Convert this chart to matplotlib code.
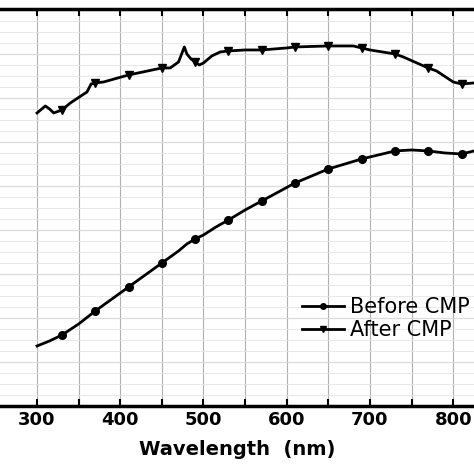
import matplotlib
matplotlib.use("Agg")
import matplotlib.pyplot as plt
import numpy as np

# After CMP curve (x nm, y in arbitrary units)
after_x = [300, 310, 315, 320, 330, 340, 360, 365, 370, 380, 410, 450, 460, 470, 477, 480, 485, 490, 495, 500, 510, 520, 530, 550, 570, 600, 610, 650, 680, 690, 700, 730, 740, 770, 780, 800, 810, 825]
after_y = [293, 300, 297, 293, 296, 303, 314, 322, 323, 324, 331, 338, 338, 344, 359, 352, 347, 344, 341, 343, 350, 354, 355, 356, 356, 358, 359, 360, 360, 358, 356, 352, 349, 338, 335, 324, 322, 323]
after_mx = [330, 370, 410, 450, 490, 530, 570, 610, 650, 690, 730, 770, 810]
after_my = [296, 323, 331, 338, 344, 355, 356, 359, 360, 358, 352, 338, 322]

before_x = [300, 315, 330, 350, 370, 390, 410, 430, 450, 470, 480, 490, 500, 515, 530, 550, 570, 590, 610, 630, 650, 670, 690, 710, 730, 750, 770, 790, 810, 825]
before_y = [60, 65, 71, 82, 95, 107, 119, 131, 143, 155, 162, 167, 171, 179, 186, 196, 205, 214, 223, 230, 237, 242, 247, 251, 255, 256, 255, 253, 252, 255]
before_mx = [330, 370, 410, 450, 490, 530, 570, 610, 650, 690, 730, 770, 810]
before_my = [71, 95, 119, 143, 167, 186, 205, 223, 237, 247, 255, 255, 252]

xticks = [300, 400, 500, 600, 700, 800]

fig = plt.figure(figsize=(4.74, 4.74), dpi=100)
ax = fig.add_axes([0, 0.1435, 1.0, 0.8376])
ax.set_xlim(255.5, 825)
ax.set_ylim(0, 397)

for v in np.arange(300, 826, 50):
    ax.axvline(v, color="#b0b0b0", lw=0.8, zorder=0)
for v in np.arange(0, 398, 44):
    ax.axhline(v, color="#b0b0b0", lw=0.8, zorder=0)
for v in np.arange(0, 398, 11):
    ax.axhline(v, color="#e4e4e4", lw=0.6, zorder=0)

ax.plot(before_x, before_y, color="black", lw=2)
ax.plot(before_mx, before_my, "o", color="black", ms=5.5)
ax.plot(after_x, after_y, color="black", lw=2)
ax.plot(after_mx, after_my, "v", color="black", ms=6)

# legend proxies
ax.plot([], [], "-o", color="black", lw=2, ms=4, label="Before CMP")
ax.plot([], [], "-v", color="black", lw=2, ms=4, label="After CMP")
h, l = ax.get_legend_handles_labels()
ax.legend(h[-2:], l[-2:], loc="upper left", bbox_to_anchor=(0.615, 0.3), frameon=False,
          fontsize=15, handlelength=2.0, handletextpad=0.3, labelspacing=0.15, borderpad=0)

ax.set_xticks(xticks)
ax.set_xticklabels([str(t) for t in xticks], fontsize=13, fontweight="bold")
ax.set_xticks(np.arange(350, 826, 100), minor=True)
ax.set_yticks([])
ax.tick_params(axis="x", which="both", direction="in", top=True, length=5, width=1.5)
for s in ["top", "bottom"]:
    ax.spines[s].set_linewidth(2.5)
ax.spines["left"].set_visible(False)
ax.spines["right"].set_visible(False)
ax.set_xlabel("Wavelength  (nm)", fontsize=14, fontweight="bold", labelpad=8)

fig.savefig("out.png", dpi=100)
